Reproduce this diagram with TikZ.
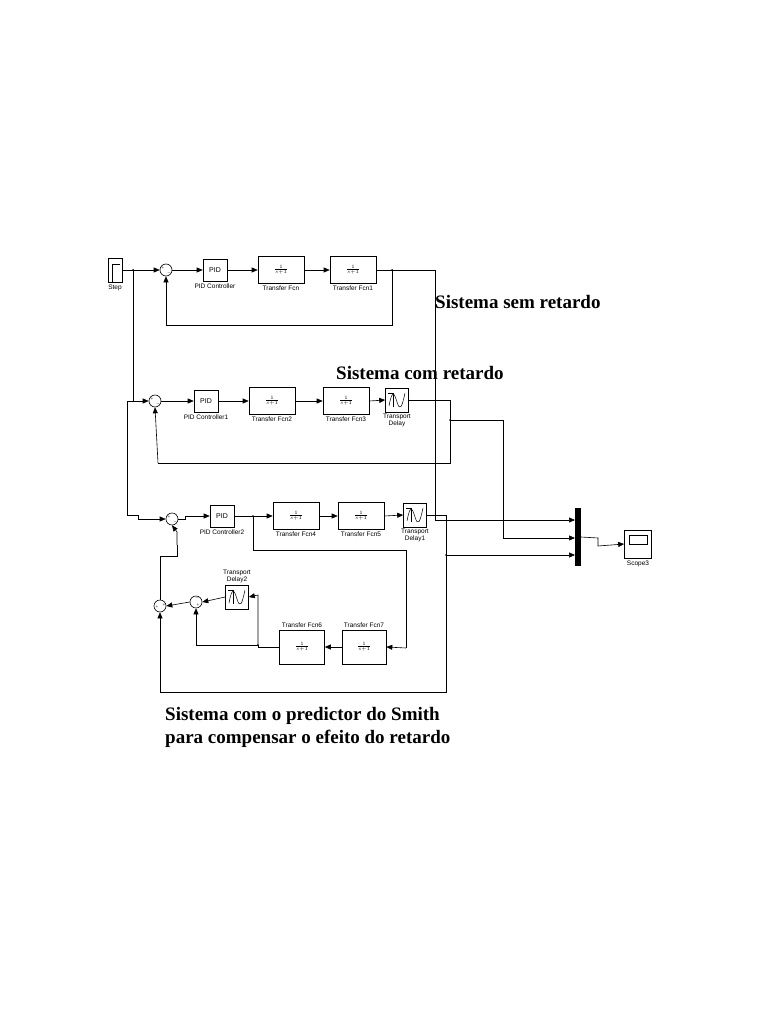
\documentclass[tikz,border=0pt]{standalone}
\usepackage{fontspec}
\setmainfont{Liberation Serif}
\newfontfamily\lab{Liberation Sans}
\usetikzlibrary{arrows.meta,positioning}
\begin{document}
\begin{tikzpicture}[x=1pt,y=-1pt,
  blk/.style={draw,line width=0.6pt,inner sep=0pt},
  sumb/.style={draw,circle,minimum size=12pt,inner sep=0pt,line width=0.6pt},
  lb/.style={font=\lab\fontsize{6.5}{7}\selectfont,align=center,inner sep=1pt},
  ttl/.style={font=\bfseries\fontsize{19}{23}\selectfont,anchor=west,inner sep=0pt},
  w/.style={line width=0.6pt},
  a/.style={line width=0.6pt,-{Triangle[length=6pt,width=5pt]}},
  tf/.style={blk,minimum width=46pt,minimum height=27pt,font=\lab\fontsize{6.5}{7}\selectfont},
  pid/.style={blk,minimum width=24pt,minimum height=22pt,font=\lab\fontsize{7}{8}\selectfont},
  tdl/.style={blk,minimum width=23pt,minimum height=24pt}]
\useasboundingbox (0,0) rectangle (768,1024);
\newcommand{\tfn}{$\frac{1}{s+1}$}
\newcommand{\squig}[1]{\draw[line width=0.5pt] ([shift={(-8,6)}]#1.center) .. controls +(3,-16) and +(-3,-10) .. ([shift={(0,2)}]#1.center) .. controls +(3,10) and +(-3,14) .. ([shift={(8,-7)}]#1.center);
 \draw[line width=0.5pt] ([shift={(-9,-7)}]#1.center) -- ([shift={(-4,-7)}]#1.center) -- ([shift={(-4,7)}]#1.center);}
% row 1
\node[blk,minimum width=14pt,minimum height=24pt] (step) at (115,270) {};
\draw[w] ([xshift=-3]step.south) -- ([xshift=-3,yshift=-7]step.north) -- ([xshift=5,yshift=-7]step.north);
\node[lb,below=1pt of step] {Step};
\node[sumb] (s1) at (166,270) {}; \node[font=\tiny] at (163,268) {+}; \node[font=\tiny] at (169,273) {\_};
\node[pid] (p1) at (215,270) {PID}; \node[lb,below=1pt of p1] {PID Controller};
\node[tf] (t0) at (281,270) {\tfn}; \node[lb,below=1pt of t0] {Transfer Fcn};
\node[tf] (t1) at (353,270) {\tfn}; \node[lb,below=1pt of t1] {Transfer Fcn1};
\coordinate (b1) at (133,270);
\draw[a] (step.east) -- (s1.west);
\draw[a] (s1.east) -- (p1.west);
\draw[a] (p1.east) -- (t0.west);
\draw[a] (t0.east) -- (t1.west);
\coordinate (o1) at (392,270);
\draw[w] (t1.east) -- (435,270) -- (435,520);
\draw[a] (o1) -- (392,325) -- (166,325) -- (s1.south);
\fill (o1) circle (1pt); \fill (b1) circle (1pt);
\node[ttl] at (435,302) {Sistema sem retardo};
% row 2
\node[sumb] (s2) at (155,401) {}; \node[font=\tiny] at (152,399) {+}; \node[font=\tiny] at (158,404) {\_};
\node[pid] (p2) at (206,401) {PID}; \node[lb,below=1pt of p2] {PID Controller1};
\node[tf] (t2) at (272,401) {\tfn}; \node[lb,below=1pt of t2] {Transfer Fcn2};
\node[tf] (t3) at (346,401) {\tfn}; \node[lb,below=1pt of t3] {Transfer Fcn3};
\node[tdl] (d0) at (397,400) {}; \squig{d0}
\node[lb,below=1pt of d0] {Transport\\Delay};
\draw[w] (b1) -- (133,401);
\draw[a] (127,401) -- (s2.west);
\draw[a] (s2.east) -- (p2.west);
\draw[a] (p2.east) -- (t2.west);
\draw[a] (t2.east) -- (t3.west);
\draw[a] (t3.east) -- (d0.west);
\draw[w] (d0.east) -- (450,400) -- (450,463) -- (158,463);
\draw[a] (158,463) -- (s2.south);
\coordinate (o2) at (450,420); \fill (o2) circle (1pt);
\node[ttl] at (336,373) {Sistema com retardo};
% row 3
\node[sumb] (s3) at (172,519) {}; \node[font=\tiny] at (169,517) {+}; \node[font=\tiny] at (175,522) {\_};
\node[pid] (p3) at (222,516) {PID}; \node[lb,below=1pt of p3] {PID Controller2};
\node[tf] (t4) at (296,516) {\tfn}; \node[lb,below=1pt of t4] {Transfer Fcn4};
\node[tf] (t5) at (361,516) {\tfn}; \node[lb,below=1pt of t5] {Transfer Fcn5};
\node[tdl] (d1) at (415,515) {}; \squig{d1}
\node[lb,below=1pt of d1] {Transport\\Delay1};
\draw[w] (127,401) -- (127,515) -- (138,515) -- (138,519);
\draw[a] (138,519) -- (s3.west);
\draw[a] (s3.east) -- (185,519) -- (185,516) -- (p3.west);
\coordinate (b3) at (253,516); \fill (b3) circle (1pt);
\draw[a] (p3.east) -- (t4.west);
\draw[a] (t4.east) -- (t5.west);
\draw[a] (t5.east) -- (d1.west);
\draw[w] (d1.east) -- (446,515) -- (446,692) -- (160,692);
\coordinate (o3) at (446,555); \fill (o3) circle (1pt);
% smith predictor
\node[tf,minimum width=44pt,minimum height=34pt] (t7) at (364,647) {\tfn}; \node[lb,above=1pt of t7] {Transfer Fcn7};
\node[tf,minimum width=45pt,minimum height=34pt] (t6) at (302,647) {\tfn}; \node[lb,above=1pt of t6] {Transfer Fcn6};
\node[tdl] (d2) at (237,597) {}; \squig{d2}
\node[lb,above=1pt of d2] {Transport\\Delay2};
\node[sumb] (s5) at (196,602) {}; \node[font=\tiny] at (198,605) {+}; \node[font=\tiny] at (197,598) {\_};
\node[sumb] (s4) at (160,606) {}; \node[font=\tiny] at (157,607) {+}; \node[font=\tiny] at (164,605) {+};
\draw[w] (b3) -- (253,550) -- (406,550) -- (406,648);
\draw[a] (406,648) -- (t7.east);
\draw[a] (t7.west) -- (t6.east);
\coordinate (b6) at (258,645); \fill (b6) circle (1pt);
\draw[w] (t6.west) -- (258,647) -- (258,645);
\draw[a] (b6) -- (258,595) -- (d2.east);
\draw[a] (b6) -- (196,645) -- (s5.south);
\draw[a] (d2.west) -- (s5.east);
\draw[a] (s5.west) -- (s4.east);
\draw[a] (160,692) -- (s4.south);
\draw[w] (s4.north) -- (160,556) -- (177,556) -- (177,545);
\draw[a] (177,545) -- (177,532) -- (s3.south);
% mux & scope
\node[fill=black,minimum width=6pt,minimum height=58pt,inner sep=0pt] (mux) at (578,537) {};
\draw[a] (435,520) -- (575,520);
\draw[w] (o2) -- (503,420) -- (503,538);
\draw[a] (503,538) -- (575,538);
\draw[a] (o3) -- (575,555);
\node[blk,minimum width=27pt,minimum height=28pt] (sc) at (638,544) {};
\draw[w] ([shift={(-9,-9)}]sc.center) rectangle ([shift={(9,0)}]sc.center);
\node[lb,below=1pt of sc] {Scope3};
\draw[a] (mux.east) -- (598,538) -- (598,546) -- (sc.west);
\node[ttl,align=left,anchor=north west] at (165,707) {Sistema com o predictor do Smith\\para compensar o efeito do retardo};
\end{tikzpicture}
\end{document}
